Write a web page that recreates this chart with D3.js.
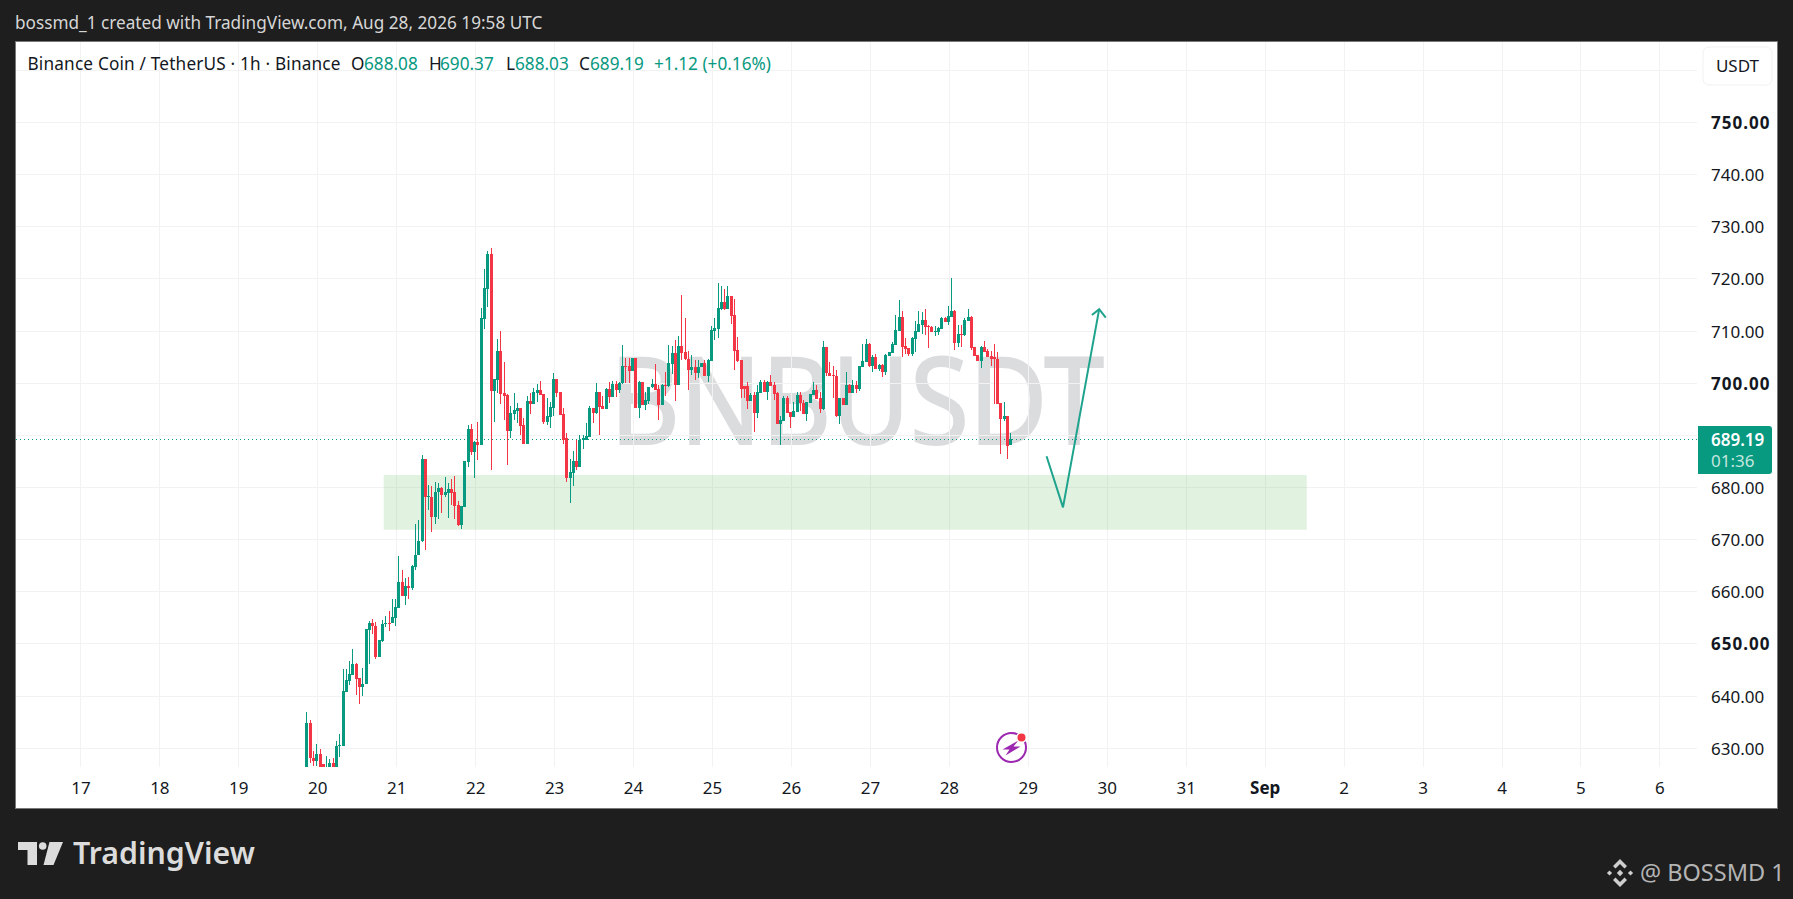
<!DOCTYPE html>
<html>
<head>
<meta charset="utf-8">
<script src="https://cdn.jsdelivr.net/npm/d3@7"></script>
<style>
  html, body { margin: 0; padding: 0; background: #1e1e1e; overflow: hidden; }
  text { font-family: "Noto Sans", "Open Sans", sans-serif; }
</style>
</head>
<body>
<div id="chart"></div>
<script>
// hourly candles, first one opens Aug 19 21:00 UTC
var firstCandle = Date.UTC(2026, 7, 19, 21);

var opens = [
  624,634.7,628,627.4,628.8,626.8,625,626,627,626,
  630.3,630.4,640.6,642.8,644,646,643.3,641.6,642.2,652.6,
  654,653.4,647.3,650.4,653.7,654,653.9,654.9,656.8,661.7,
  659.1,661.1,660.6,664.7,666.9,669.6,685.3,678.1,678.1,674.3,
  679,679.8,678.4,678.8,679.6,679,676.5,672.7,676.1,684.8,
  691.1,686.7,688.6,688,712.2,718,724.7,698.4,700.6,706.1,
  698,697.6,690.7,694,694.5,695.1,691.9,688.2,696.5,695.9,
  698,698.6,697.8,692.4,693.4,695.2,700.7,698.2,694,689.4,
  681.7,682.7,685,683.8,689,689,689.6,695.1,694.2,698.2,
  695.5,694.9,698.8,697.2,699.7,698.6,700,703.2,703.2,702.2,
  704.7,695.1,700.1,695.7,696.5,699.2,699.7,698.8,695.7,699.5,
  699.4,703.6,705.7,699.5,707,705.9,704.5,702.4,703,701.8,
  703,703.8,701.3,704.1,709.9,710.3,714.1,715.5,714.1,716.6,
  713,706.3,704.3,699.3,699.3,696.5,697.6,694.2,698,700.1,
  698.2,700.1,699.5,698,692.1,692.6,697,694.4,693.4,694.4,
  697.6,696.1,694,696.1,697.6,698.6,697,694.9,706.8,701.8,
  701.5,701.3,693.6,697,695.7,699.5,698,699.5,698.8,703,
  703.9,707.4,703.2,704.9,702.6,703.4,702,705.1,705.7,707.2,
  709.9,712.6,707,706.6,705.5,708.4,709.7,711,712,710.9,
  710.7,709.7,709.7,710.3,712.4,711.6,712.6,713.7,707.6,709.3,
  709.1,711.8,712.6,706.8,705.3,704.1,706.8,706,705.1,704.9,
  704.5,696.1,693,693.6,688.08
];
var highs = [
  636.8,635.4,629.3,630.8,629.7,626.8,628.5,627.8,628,631.2,
  632.7,645,645,646.7,649,646.3,643.3,645.2,652.7,654.3,
  654.6,654.2,650.7,654.4,655.2,656.2,658.5,658.5,666.7,664.1,
  662.6,662.7,665,672.9,673.6,686.1,685.3,680.4,680.2,680.9,
  680.8,680,681.9,680.8,681.5,682.1,677.3,676.3,685,691.9,
  692.1,688.9,692.4,714.4,721.8,725.2,725.9,700.8,708.4,709.9,
  704,697.9,695.5,698,696.1,695.1,693.2,697.4,698,699,
  699.7,700.3,697.8,697,696.3,701.8,700.7,698.2,695.1,690.3,
  685.3,686.9,689,690,690,692.3,695.5,695.1,699.9,698.2,
  697.4,699,700.1,700.3,700.3,700.2,707.2,704.8,704.8,704.8,
  704.8,700.3,700.1,698.2,699.2,700.7,703.6,699.5,699.7,702,
  707.2,707,708.2,708.9,716.8,712.4,706.1,705.3,704.3,704.3,
  703.8,704.3,704.5,710.9,712.4,719.1,718.5,718,718.5,716.6,
  716,708.8,704.3,699.3,700.1,698.1,698.2,699.5,700.5,700.5,
  700.3,701.5,700.1,698.2,693.6,697.4,697.4,694.4,696.3,698.2,
  698.2,696.7,696.3,697.8,700.1,699.5,698.2,708,706.8,704,
  703.2,702.4,697,697,702,699.7,700.5,700.3,703.3,707.4,
  708.4,707.6,705.4,705.5,703.6,703.6,705.5,705.8,707.8,713,
  715.8,713.7,708.6,706.6,708.7,711.8,713.7,713.5,714.1,711,
  710.9,710.9,710.7,712.6,712.6,714.7,720,713.9,711,711,
  712.4,714.1,712.8,706.8,705.3,707,708,706.4,706,707.4,
  705.9,696.1,696.3,693.6,690.37
];
var lows = [
  624,627,626.5,626.5,625,625,624.5,625,625.5,625,
  628.2,630.4,640.6,642,644,640.1,638.3,639.9,642.2,646,
  651.8,647.1,647.3,650.3,653.2,652.3,653.9,653.3,656.8,659,
  657.3,658.6,660.2,664.1,666.9,669.4,668,675.6,671.4,672.9,
  673.9,675,678.1,674,676.5,673.8,672.5,671.9,676.1,683.8,
  686.1,681.7,685.2,688,710.3,714.5,683.2,692.4,698.1,695.9,
  692.8,684.2,689.3,692.8,692.2,690,688.2,688.2,694,695.9,
  696.3,697.6,692,691.9,691.3,693.6,697.3,693.8,688.2,680.9,
  676.9,680.2,683.2,683.8,687.3,689,689.6,692.3,694,690,
  694.9,694.9,696.1,697.2,697.2,698,699.8,700,700,702.2,
  695.1,693.2,695.7,694.7,696,699,698.6,692.8,695.7,697.4,
  699.2,701.6,696.5,699.5,704.3,704.3,698.6,701.5,700.5,700.9,
  703,701.3,700.1,704.1,708.2,708.6,713.9,713.9,714.1,711.2,
  702.4,704,697,697,694.9,696.5,690.5,693.2,698,698.2,
  696.7,699.3,696.7,692.1,688,692.6,694.2,691.3,693.4,694.4,
  694.6,694,692.6,696.1,697.6,696.9,694.2,694.7,701.3,701.3,
  697,693.4,692,695.7,695.7,698,698,698,698.5,703,
  703.9,703,702.1,702.6,702.2,701.1,701.5,705.1,705.7,707.2,
  709.9,704.9,705.5,705.1,705.1,705.9,709.7,709.3,709.1,706.6,
  709.7,708.9,709.1,710.3,711.6,711,712.6,706.3,706.8,706.8,
  708.9,711.8,706.3,705.1,704.1,702.8,705.9,704.9,703.2,696,
  695.9,686.3,692.6,685.3,688.03
];
var closes = [
  634.7,628,627.4,628.8,626.3,626,626,627,626,630.3,
  630.6,640.8,642.9,644.1,646,643.2,641.6,642.3,652.7,654,
  653.3,647.3,650.6,653.8,654,653.9,655,656.9,661.7,659.1,
  661.1,660.6,664.8,667,669.7,685.3,678.1,678.2,674.3,679,
  679.8,678.4,679.1,679.6,678.8,676.3,672.7,676.3,685,691.1,
  686.7,688.6,688.1,712.4,718.1,724.7,698.4,700.7,706.1,697.9,
  697.5,690.7,694.2,694.7,695.1,691.7,688.2,696.5,695.9,698.2,
  698.6,697.6,692.4,693.6,695.3,700.7,698.1,693.8,689.1,681.7,
  682.9,685,683.8,689,689.3,689.8,695.1,694.2,698.2,695.3,
  694.9,698.8,697.2,699.7,698.6,700,703.2,703.1,702.2,704.7,
  695.1,700.1,695.7,696.7,699.2,699.7,698.6,695.7,699.5,699.4,
  703.8,705.7,699.5,707,705.7,704.5,702.4,703,701.8,703,
  703.8,701.3,704.3,710.1,710.5,714.3,715.5,714.1,716.6,712.8,
  706.1,704.1,698.8,698.8,696.5,697.6,694.2,698.2,700.1,698.2,
  700.1,699.3,697.8,692.1,692.8,697,694.2,693.4,694.6,697.6,
  696.1,694,696.3,697.8,698.6,696.9,694.9,706.8,701.8,701.3,
  701.2,693.6,697,695.7,699.5,698,699.5,698.8,703.2,704.1,
  707.4,703.2,704.9,702.6,703.4,702,705.3,705.8,707.4,710.1,
  712.6,706.8,706.4,705.5,708.6,709.9,711.2,712,710.7,710.7,
  709.7,709.9,710.5,712.4,711.6,712.8,713.7,707.6,709.3,709.1,
  712,712.6,706.6,705.1,704.1,706.8,705.9,704.9,704.5,704.5,
  695.9,693,693.6,687.8,689.19
];

var priceTicks = [630,640,650,660,670,680,700,710,720,730,740,750];
var gridPrices = [630,640,650,660,670,680,690,700,710,720,730,740,750,760];
var lastPrice = 689.19;
var countdown = "01:36";

// drawings on the chart, price + time
var zoneTimes = [Date.UTC(2026,7,20,20,12), Date.UTC(2026,8,1,12,48)];
var zonePrices = [682.3, 671.8];
var arrowTimes = [Date.UTC(2026,7,29,5,42), Date.UTC(2026,7,29,10,42), Date.UTC(2026,7,29,21,42)];
var arrowPrices = [685.9, 676.1, 714.1];
var arrowHeadTimes = [Date.UTC(2026,7,29,19,30), Date.UTC(2026,7,29,21,42), Date.UTC(2026,7,29,23,42)];
var arrowHeadPrices = [713, 714.1, 712.5];

var width = 1793, height = 899;
var pane = {left: 16, top: 42, right: 1777, bottom: 808, plotRight: 1697, plotBottom: 767};
var green = "#089981", red = "#f23645", ink = "#131722", gridColor = "#f2f2f3";

var x = d3.scaleUtc()
    .domain([Date.UTC(2026,7,17), Date.UTC(2026,8,6)])
    .range([80.4, 1659.4]);
var y = d3.scaleLinear()
    .domain([630, 750])
    .range([747.7, 122]);

var svg = d3.select("#chart").append("svg")
    .attr("width", width)
    .attr("height", height)
    .style("display", "block");

svg.append("rect")
    .attr("width", width).attr("height", height)
    .attr("fill", "#1e1e1e");
svg.append("rect")
    .attr("x", pane.left - 0.5).attr("y", pane.top - 0.5)
    .attr("width", pane.right - pane.left + 1).attr("height", pane.bottom - pane.top + 1)
    .attr("fill", "#fff")
    .attr("stroke", "#787878");

svg.append("defs").append("clipPath").attr("id", "plot")
  .append("rect")
    .attr("x", pane.left).attr("y", pane.top)
    .attr("width", pane.plotRight - pane.left)
    .attr("height", pane.plotBottom - pane.top);

// watermark
svg.append("text")
    .attr("x", 610).attr("y", 444)
    .attr("textLength", 494)
    .attr("lengthAdjust", "spacingAndGlyphs")
    .attr("font-size", 120)
    .attr("fill", "#dbdcde")
    .attr("stroke", "#dbdcde")
    .attr("stroke-width", 2)
    .text("BNBUSDT");

// grid
var dayTicks = d3.utcDay.range(new Date(Date.UTC(2026,7,17)), new Date(Date.UTC(2026,8,7)));
svg.append("g").selectAll("line")
    .data(gridPrices)
  .enter().append("line")
    .attr("x1", pane.left).attr("x2", pane.plotRight)
    .attr("y1", function(d) { return Math.round(y(d)) + 0.5; })
    .attr("y2", function(d) { return Math.round(y(d)) + 0.5; })
    .attr("stroke", gridColor);
svg.append("g").selectAll("line")
    .data(dayTicks)
  .enter().append("line")
    .attr("y1", pane.top).attr("y2", pane.plotBottom)
    .attr("x1", function(d) { return Math.round(x(d)) + 0.5; })
    .attr("x2", function(d) { return Math.round(x(d)) + 0.5; })
    .attr("stroke", gridColor);

// green zone
svg.append("rect")
    .attr("x", x(zoneTimes[0]))
    .attr("y", y(zonePrices[0]))
    .attr("width", x(zoneTimes[1]) - x(zoneTimes[0]))
    .attr("height", y(zonePrices[1]) - y(zonePrices[0]))
    .attr("fill", "#4caf50")
    .attr("fill-opacity", 0.17);

// last price line
svg.append("line")
    .attr("x1", pane.left).attr("x2", pane.plotRight)
    .attr("y1", Math.round(y(lastPrice)) + 0.5)
    .attr("y2", Math.round(y(lastPrice)) + 0.5)
    .attr("stroke", green)
    .attr("stroke-dasharray", "1 3");

// candles
var candles = opens.map(function(o, i) {
  return {t: firstCandle + i * 3600000, o: o, h: highs[i], l: lows[i], c: closes[i]};
});
var candle = svg.append("g")
    .attr("clip-path", "url(#plot)")
    .attr("shape-rendering", "crispEdges")
  .selectAll("g")
    .data(candles)
  .enter().append("g")
    .attr("fill", function(d) { return d.c >= d.o ? green : red; });
candle.append("rect")
    .attr("x", function(d) { return Math.round(x(d.t)) - 0.5 - 0.5; })
    .attr("width", 1)
    .attr("y", function(d) { return y(d.h); })
    .attr("height", function(d) { return y(d.l) - y(d.h); });
candle.append("rect")
    .attr("x", function(d) { return Math.round(x(d.t)) - 2; })
    .attr("width", 3)
    .attr("y", function(d) { return Math.round(y(Math.max(d.o, d.c))); })
    .attr("height", function(d) { return Math.max(1, Math.round(y(Math.min(d.o, d.c))) - Math.round(y(Math.max(d.o, d.c)))); });

// arrow
var arrowLine = d3.line()
    .x(function(d) { return x(d[0]); })
    .y(function(d) { return y(d[1]); });
svg.append("path")
    .attr("d", arrowLine(d3.zip(arrowTimes, arrowPrices)))
    .attr("fill", "none").attr("stroke", "#1ea38d").attr("stroke-width", 2);
svg.append("path")
    .attr("d", arrowLine(d3.zip(arrowHeadTimes, arrowHeadPrices)))
    .attr("fill", "none").attr("stroke", "#1ea38d").attr("stroke-width", 2);

// axes
var yAxis = svg.append("g")
    .attr("transform", "translate(1711,1)")
    .call(d3.axisRight(y).tickValues(priceTicks).tickSize(0).tickPadding(0).tickFormat(d3.format(".2f")));
yAxis.select(".domain").remove();
yAxis.selectAll("text")
    .attr("font-size", 17)
    .attr("font-family", '"Noto Sans", sans-serif')
    .attr("fill", ink)
    .attr("font-weight", function(d) { return d % 50 == 0 ? "700" : "400"; })
    .attr("letter-spacing", function(d) { return d % 50 == 0 ? 1 : 0; });

var xAxis = svg.append("g")
    .attr("transform", "translate(0,782)")
    .call(d3.axisBottom(x).tickValues(dayTicks).tickSize(0).tickPadding(0)
      .tickFormat(function(d) { return d.getUTCDate() == 1 ? "Sep" : d.getUTCDate(); }));
xAxis.select(".domain").remove();
xAxis.selectAll("text")
    .attr("font-size", 17)
    .attr("font-family", '"Noto Sans", sans-serif')
    .attr("fill", ink)
    .attr("font-weight", function(d) { return d.getUTCDate() == 1 ? "700" : "400"; });

// last price label
svg.append("path")
    .attr("d", "M1698,426H1769a3,3 0 0 1 3,3V471a3,3 0 0 1 -3,3H1698Z")
    .attr("fill", green);
svg.append("text")
    .attr("x", 1711).attr("y", 446)
    .attr("font-size", 17).attr("font-weight", 600).attr("fill", "#fff")
    .text(d3.format(".2f")(lastPrice));
svg.append("text")
    .attr("x", 1711).attr("y", 467)
    .attr("font-size", 17).attr("fill", "#c4e6df")
    .text(countdown);

// currency button
svg.append("rect")
    .attr("x", 1703).attr("y", 47).attr("width", 69).attr("height", 38).attr("rx", 6)
    .attr("fill", "#fff").attr("stroke", "#f0f1f3");
svg.append("text")
    .attr("x", 1737.5).attr("y", 71.5)
    .attr("text-anchor", "middle")
    .attr("font-size", 17).attr("fill", ink)
    .text("USDT");

// header + legend
svg.append("text")
    .attr("x", 15).attr("y", 28.5)
    .attr("font-size", 17.2).attr("fill", "#d6d6d6")
    .text("bossmd_1 created with TradingView.com, Aug 28, 2026 19:58 UTC");

var legend = [
  ["Binance Coin / TetherUS \u00b7 1h \u00b7 Binance", 27.5, ink, 313],
  ["O", 351, ink], ["688.08", 364, green],
  ["H", 429, ink], ["690.37", 440, green],
  ["L", 506, ink], ["688.03", 515, green],
  ["C", 579, ink], ["689.19", 590, green],
  ["+1.12 (+0.16%)", 654, green]
];
svg.append("g").selectAll("text")
    .data(legend)
  .enter().append("text")
    .attr("x", function(d) { return d[1]; })
    .attr("y", 69.5)
    .attr("font-size", 17.2)
    .attr("fill", function(d) { return d[2]; })
    .attr("textLength", function(d) { return d[3]; })
    .text(function(d) { return d[0]; });

// lightning badge
var badge = svg.append("g").attr("transform", "translate(1011.5,747.5)");
badge.append("circle").attr("r", 14.5).attr("fill", "#fff").attr("stroke", "#9c27b0").attr("stroke-width", 2);
badge.append("path")
    .attr("d", "M7,-7L-9,2H-2L-6,8L9,-1H2Z")
    .attr("fill", "#9c27b0");
badge.append("circle").attr("cx", 10).attr("cy", -10).attr("r", 5.5).attr("fill", "#fff");
badge.append("circle").attr("cx", 10).attr("cy", -10).attr("r", 4).attr("fill", red);

// TradingView logo
var logo = svg.append("g").attr("fill", "#dcdcdc");
logo.append("path").attr("d", "M18,842H37V865H27.5V850H18Z");
logo.append("circle").attr("cx", 42.7).attr("cy", 846).attr("r", 3.8);
logo.append("path").attr("d", "M49.5,842H63L53.5,865H43.5Z");
svg.append("text")
    .attr("x", 73).attr("y", 864)
    .attr("font-family", "Inter, sans-serif")
    .attr("font-size", 30.3).attr("font-weight", 600)
    .attr("fill", "#dcdcdc")
    .text("TradingView");

// watermark bottom right
var mark = svg.append("g").attr("transform", "translate(1620,873)").attr("fill", "#cfcfcf");
mark.append("path").attr("d", "M0,-14L7,-7L4.5,-4.5L0,-9L-4.5,-4.5L-7,-7Z");
mark.append("path").attr("d", "M0,14L7,7L4.5,4.5L0,9L-4.5,4.5L-7,7Z");
mark.append("path").attr("d", "M0,-3.2L3.2,0L0,3.2L-3.2,0Z");
mark.append("path").attr("d", "M-10.5,-2.6L-7.9,0L-10.5,2.6L-13.1,0Z");
mark.append("path").attr("d", "M10.5,-2.6L13.1,0L10.5,2.6L7.9,0Z");
svg.append("text")
    .attr("x", 1640).attr("y", 881)
    .attr("font-family", '"Open Sans", sans-serif')
    .attr("font-size", 23.5)
    .attr("fill", "#b4b4b4")
    .text("@ BOSSMD 1");
</script>
</body>
</html>
